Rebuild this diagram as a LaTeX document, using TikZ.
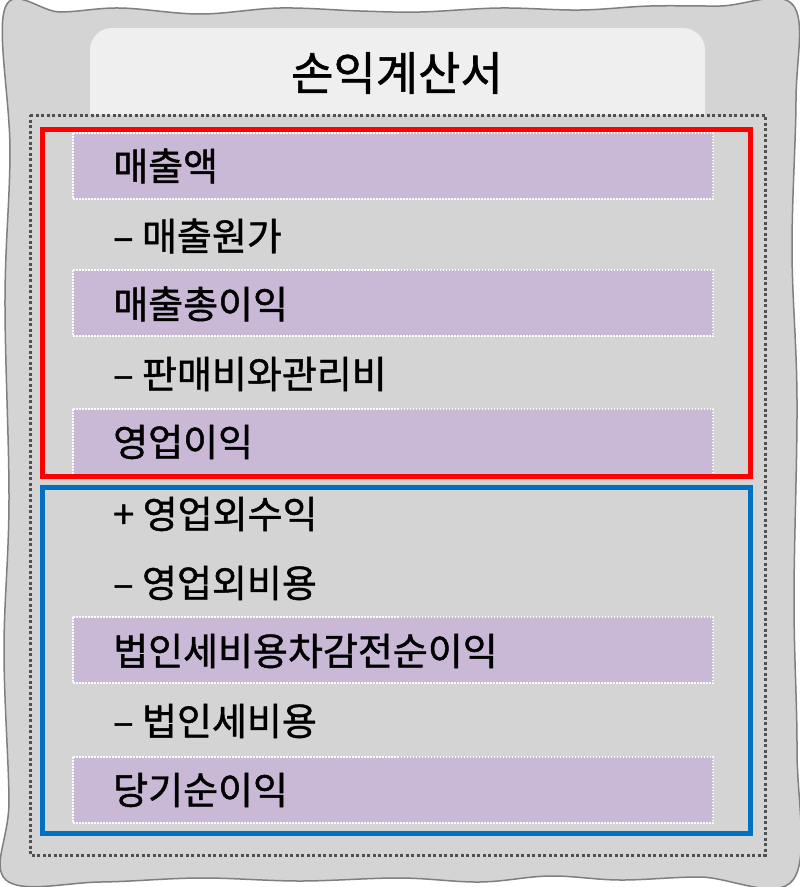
\documentclass[tikz,border=0pt]{standalone}
\usepackage{fontspec}
\setmainfont{Noto Sans CJK KR}
\newfontfamily\rowfont[FakeBold=1.2]{Noto Sans CJK KR}
\begin{document}
\begin{tikzpicture}[x=1pt,y=-1pt,
  rowbox/.style={fill=rowfill, draw=white, dash pattern=on 1.5pt off 1.5pt, line width=1.5pt},
  rowtext/.style={anchor=west, font=\rowfont\fontsize{38}{42}\selectfont, text=black, inner sep=0pt},
  titletext/.style={font=\rowfont\fontsize{46}{50}\selectfont, text=black, inner sep=0pt}]
\definecolor{framefill}{HTML}{D4D4D4}
\definecolor{frameline}{HTML}{7F7F7F}
\definecolor{titlefill}{HTML}{EFEFEF}
\definecolor{rowfill}{HTML}{C9B9D6}
\definecolor{redline}{HTML}{FF0000}
\definecolor{blueline}{HTML}{0070C0}
\definecolor{dotline}{HTML}{505050}
\useasboundingbox (0,0) rectangle (800,887);
\fill[white] (0,0) rectangle (800,887);
% wavy frame
\draw[fill=framefill, draw=frameline, line width=1.5pt] plot[smooth cycle, tension=0.6] coordinates {
 (5,8) (60,12) (120,8) (200,14) (280,8) (360,11) (420,12) (500,8) (580,10) (650,6) (720,6) (793,5)
 (796,100) (792,250) (797,400) (794,600) (797,750) (793,880)
 (700,877) (620,880) (550,876) (480,882) (400,878) (300,881) (200,878) (100,882) (6,880)
 (9,800) (4,650) (9,500) (5,300) (10,150)};
% title box
\fill[titlefill, rounded corners=22pt] (90,28) rectangle (705,140);
\node[titletext] (title) at (397,73) {손익계산서};
% dotted container
\fill[framefill] (30,115) rectangle (765,855);
\draw[draw=dotline, line width=3pt, dash pattern=on 3pt off 2.5pt] (30,115) -- (765,115) -- (765,855) -- (30,855) -- cycle;
% row boxes
\path[rowbox] (73,133) rectangle (713,199);
\path[rowbox] (73,270) rectangle (713,336);
\path[rowbox] (73,409) rectangle (713,475);
\path[rowbox] (73,617) rectangle (713,683);
\path[rowbox] (73,757) rectangle (713,823);
% group frames
\draw[redline, line width=5pt] (42.5,129.5) rectangle (750.5,476);
\draw[blueline, line width=5pt] (42.5,487.5) rectangle (750.5,833);
% texts
\node[rowtext] (r1) at (113,166) {매출액};
\node[rowtext] (r2) at (113,236) {– 매출원가};
\node[rowtext] (r3) at (113,304) {매출총이익};
\node[rowtext] (r4) at (113,374) {– 판매비와관리비};
\node[rowtext] (r5) at (113,442) {영업이익};
\node[rowtext] (r6) at (113,514) {+ 영업외수익};
\node[rowtext] (r7) at (113,583) {– 영업외비용};
\node[rowtext] (r8) at (113,651) {법인세비용차감전순이익};
\node[rowtext] (r9) at (113,721) {– 법인세비용};
\node[rowtext] (r10) at (113,790) {당기순이익};
\end{tikzpicture}
\end{document}
